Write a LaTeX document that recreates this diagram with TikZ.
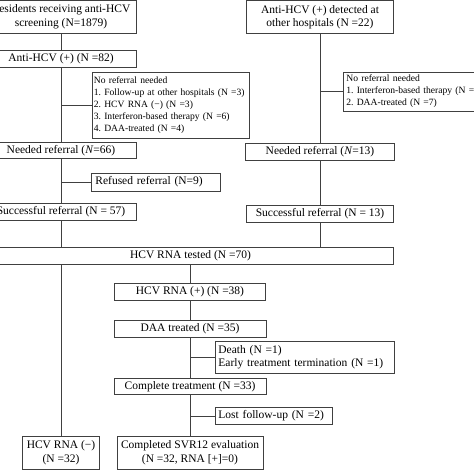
\documentclass[tikz,border=0pt]{standalone}
\usepackage{fontspec}
\setmainfont{Liberation Serif}
\usetikzlibrary{positioning,calc}

\begin{document}
\begin{tikzpicture}[x=1pt,y=-1pt,line width=.8pt,
	main node/.style={rectangle,draw=black!75,inner sep=3pt,align=center,
		font=\fontsize{11.5}{13.5}\selectfont, minimum height=17pt},
	side node/.style={main node,align=left,anchor=west},
	note node/.style={side node,font=\fontsize{9.6}{12}\selectfont},
	link/.style={draw=black!75}]

\useasboundingbox (0,0) rectangle (474,474);
\clip (0,0) rectangle (474,474);

    \node[main node,minimum width=150pt,minimum height=33pt] (S) at (61,17) {Residents receiving anti-HCV\\screening (N=1879)};
    \node[main node,minimum width=147pt,minimum height=33pt] (H) at (320,17) {Anti-HCV (+) detected at\\other hospitals (N =22)};
    \node[main node,minimum width=150pt] (A) at (61,58.5) {Anti-HCV (+) (N =82)};
    \node[note node,inner xsep=1.5pt,text width=154pt,minimum height=66pt] (NL) at (92,105) {No referral needed\\1.\ Follow-up at other hospitals (N =3)\\2.\ HCV RNA (−) (N =3)\\3.\ Interferon-based therapy (N =6)\\4.\ DAA-treated (N =4)};
    \node[note node,text width=150pt,minimum height=39pt] (NR) at (343,91.5) {No referral needed\\1.\ Interferon-based therapy (N =2)\\2.\ DAA-treated (N =7)};
    \node[main node,minimum width=150pt,minimum height=16pt] (NA) at (61,150.5) {Needed referral (\textit{N}=66)};
    \node[main node,minimum width=149pt,minimum height=16pt] (NB) at (320,152) {Needed referral (\textit{N}=13)};
    \node[side node,inner xsep=4pt,text width=121pt,minimum height=18pt] (R) at (91,182) {Refused referral (N=9)};
    \node[main node,minimum width=150pt] (SA) at (61,211.5) {Successful referral (N = 57)};
    \node[main node,minimum width=147pt] (SB) at (320,213.5) {Successful referral (N = 13)};
    \node[main node,minimum width=405pt] (T) at (190.5,255.5) {HCV RNA tested (N =70)};
    \node[main node,minimum width=151pt] (P) at (190,291.5) {HCV RNA (+) (N =38)};
    \node[main node,minimum width=152pt,minimum height=16pt] (D) at (190,329) {DAA treated (N =35)};
    \node[side node,text width=173pt,minimum height=32pt] (X) at (215,357) {Death (N =1)\\Early treatment termination (N =1)};
    \node[main node,minimum width=152pt,minimum height=16pt] (C) at (190,386.5) {Complete treatment (N =33)};
    \node[side node,text width=111pt,minimum height=16pt] (L) at (215,416) {Lost follow-up (N =2)};
    \node[main node,minimum width=77pt,minimum height=33pt] (M) at (61,452.5) {HCV RNA (−)\\(N =32)};
    \node[main node,minimum width=146pt,minimum height=33pt] (V) at (190,452.5) {Completed SVR12 evaluation\\(N =32, RNA [+]=0)};

    % main columns
    \path[link]
	(S) edge (A)
	(A) edge (NA)
	(NA) edge (SA)
	(H) edge (NB)
	(NB) edge (SB)
	(P) edge (D)
	(D) edge (C)
	(C) edge (V);
    \draw[link] (SA) -- (SA |- T.north);
    \draw[link] (SB) -- (SB |- T.north);
    \draw[link] (M |- T.south) -- (M);
    \draw[link] (P |- T.south) -- (P);

    % side branches
    \draw[link] (NL.west) -- (NL.west -| A.south);
    \draw[link] (NR.west) -- (NR.west -| H.south);
    \draw[link] (R.west) -- (R.west -| NA.south);
    \draw[link] (X.west) -- (X.west -| D.south);
    \draw[link] (L.west) -- (L.west -| C.south);

\end{tikzpicture}
\end{document}
